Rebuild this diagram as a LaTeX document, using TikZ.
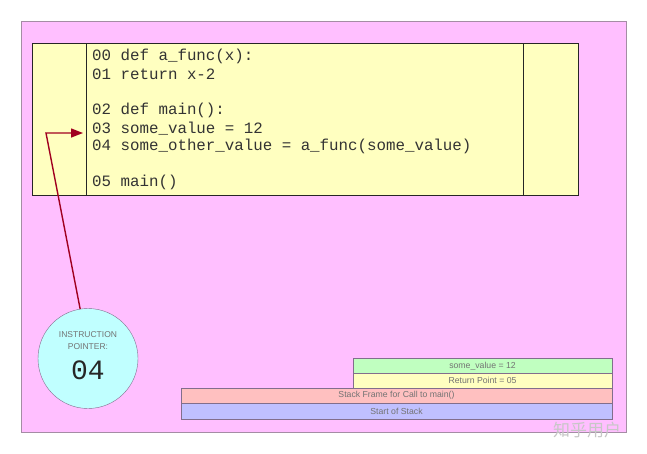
\documentclass[tikz,border=0pt]{standalone}
\usepackage{fontspec}
\setmainfont{Liberation Sans}
\setmonofont{Liberation Mono}
\newfontfamily\cjk{Noto Sans CJK SC}
\usetikzlibrary{arrows.meta,positioning}

\definecolor{pagebg}{RGB}{255,191,255}
\definecolor{pageline}{RGB}{165,140,165}
\definecolor{codebg}{RGB}{255,255,192}
\definecolor{ipbg}{RGB}{192,255,255}
\definecolor{varbg}{RGB}{192,255,192}
\definecolor{framebg}{RGB}{255,192,192}
\definecolor{basebg}{RGB}{192,192,255}
\definecolor{ptrred}{RGB}{160,0,32}
\definecolor{cellline}{RGB}{130,110,140}

\begin{document}
\begin{tikzpicture}[%
    x=1pt, y=-1pt,
    >={Triangle[length=12pt,width=9pt]},
    codecol/.style={draw=black!85, fill=codebg, line width=1pt, outer sep=0pt,
      minimum height=152pt, inner sep=0pt},
    codeline/.style={anchor=west, inner sep=0pt, font=\ttfamily\fontsize{15.8}{16}\selectfont,
      text=black!80},
    stackcell/.style={draw=cellline, line width=1pt, outer sep=0pt, inner sep=0pt,
      font=\fontsize{8.7}{9}\selectfont, text=black!55},
    tinytext/.style={inner sep=0pt, font=\fontsize{8.5}{9}\selectfont, text=black!55}
  ]
    \useasboundingbox (0,0) rectangle (647,453);
    \fill[white] (0,0) rectangle (647,453);
    \draw[fill=pagebg, draw=pageline, line width=1pt] (21,21) rectangle (626,432);

    % code listing
    \node[codecol, minimum width=437pt] (codemid) at (304.5,119) {};
    \node[codecol, minimum width=54pt, left=0pt of codemid] (codeleft) {};
    \node[codecol, minimum width=55pt, right=0pt of codemid] (coderight) {};

    \foreach \n/\txt in {0/{00 def a\_func(x):},
                         1/{01 return x-2},
                         3/{02 def main():},
                         4/{03 some\_value = 12},
                         5/{04 some\_other\_value = a\_func(some\_value)},
                         7/{05 main()}}
      \node[codeline] (line\n) at (92,56+18.05*\n) {\txt};

    % instruction pointer
    \node[circle, draw=cellline, fill=ipbg, minimum size=100pt, inner sep=0pt] (ip) at (88,358.5) {};
    \node[tinytext] (iplabel) at (88,335) {INSTRUCTION};
    \node[tinytext] (iplabeltwo) at (88,347) {POINTER:};
    \node[inner sep=0pt, font=\ttfamily\fontsize{28}{28}\selectfont, text=black!85] (ipvalue) at (88,370) {04};

    \coordinate (ipbend) at (46,133);
    \coordinate (iptarget) at (83,133);
    \draw[->, ptrred, line width=1.4pt] (ip.99) -- (ipbend) -- (iptarget);

    % stack
    \node[stackcell, fill=basebg, minimum width=431pt, minimum height=16pt] (stackbase) at (396.5,411) {Start of Stack};
    \node[stackcell, fill=framebg, minimum width=431pt, minimum height=15pt, above=0pt of stackbase] (mainframe) {Stack Frame for Call to main()};
    \node[stackcell, fill=codebg, minimum width=259pt, minimum height=14.5pt, anchor=south east] (retpoint) at (mainframe.north east) {Return Point = 05};
    \node[stackcell, fill=varbg, minimum width=259pt, minimum height=15pt, above=0pt of retpoint] (somevalue) {some\_value = 12};

    \node[font=\cjk\fontsize{17}{17}\selectfont, text=black!22] (mark) at (587,430) {知乎用户};
  \end{tikzpicture}
\end{document}
